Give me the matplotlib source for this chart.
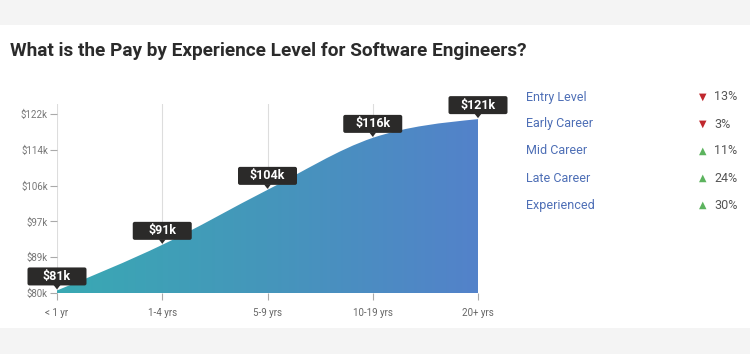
import numpy as np
import matplotlib
matplotlib.use('Agg')
from matplotlib import pyplot as plt
from matplotlib import transforms as mtransforms
from matplotlib.path import Path
from matplotlib.patches import PathPatch, FancyBboxPatch, Polygon, Rectangle
from matplotlib.colors import LinearSegmentedColormap

# data, pay in $k
levels = ['< 1 yr', '1-4 yrs', '5-9 yrs', '10-19 yrs', '20+ yrs']
pay = [80.6, 91.3, 104.2, 116.4, 120.8]
legend_names = ['Entry Level', 'Early Career', 'Mid Career', 'Late Career', 'Experienced']
legend_change = [-13, -3, 11, 24, 30]

W, H = 750, 354
DPI = 100
plt.rcParams['font.family'] = ['Roboto', 'DejaVu Sans']


def monotone_path(x, y, base):
    # cubic bezier segments like d3's curveMonotoneX
    x = np.asarray(x, float)
    y = np.asarray(y, float)
    h = np.diff(x)
    s = np.diff(y) / h
    t = np.zeros_like(y)
    for i in range(1, len(y) - 1):
        p = (s[i - 1] * h[i] + s[i] * h[i - 1]) / (h[i - 1] + h[i])
        t[i] = (np.sign(s[i - 1]) + np.sign(s[i])) * min(abs(s[i - 1]), abs(s[i]), 0.5 * abs(p))
    t[0] = (3 * s[0] - t[1]) / 2
    t[-1] = (3 * s[-1] - t[-2]) / 2
    verts = [(x[0], base), (x[0], y[0])]
    codes = [Path.MOVETO, Path.LINETO]
    for i in range(len(x) - 1):
        dx = h[i] / 3
        verts += [(x[i] + dx, y[i] + dx * t[i]), (x[i + 1] - dx, y[i + 1] - dx * t[i + 1]), (x[i + 1], y[i + 1])]
        codes += [Path.CURVE4] * 3
    verts += [(x[-1], base), (x[0], base)]
    codes += [Path.LINETO, Path.CLOSEPOLY]
    return Path(verts, codes)


fig = plt.figure(figsize=(W / DPI, H / DPI), dpi=DPI)
fig.patch.set_facecolor('white')

# gray bands top and bottom
fig.patches.append(Rectangle((0, 1 - 25 / H), 1, 25 / H, transform=fig.transFigure, fc='#f4f4f4', ec='none'))
fig.patches.append(Rectangle((0, 0), 1, 26 / H, transform=fig.transFigure, fc='#f4f4f4', ec='none'))

fig.text(10 / W, 1 - 51 / H, 'What is the Pay by Experience Level for Software Engineers?',
         fontweight='bold', fontsize=13.7, color='#2b2b2b', va='center', ha='left')

ymin, ymax = 80, 122
ytop = 124.35
ax = fig.add_axes([57 / W, (H - 293) / H, (478 - 57) / W, (293 - 104) / H])
ax.set_facecolor('none')

x = np.arange(len(levels))
area = monotone_path(x, pay, ymin)
patch = PathPatch(area, fc='none', ec='none')
ax.add_patch(patch)
cmap = LinearSegmentedColormap.from_list('g', ['#39a9b3', '#4596bb', '#5382ca'])
grad = np.linspace(0, 1, 256).reshape(1, -1)
im = ax.imshow(grad, cmap=cmap, extent=[0, len(levels) - 1, ymin, ytop], aspect='auto', zorder=2)
im.set_clip_path(patch)

ax.set_xlim(0, len(levels) - 1)
ax.set_ylim(ymin, ytop)
for sp in ax.spines.values():
    sp.set_visible(False)
ax.set_xticks(x)
ax.set_xticklabels(levels)
yt = np.linspace(ymin, ymax, 6)
ax.set_yticks(yt)
ax.set_yticklabels(['$%dk' % np.ceil(v - 1e-9) for v in yt])
ax.tick_params(axis='x', length=5, width=0.8, color='#aaaaaa', pad=6, labelsize=7, labelcolor='#666666')
ax.tick_params(axis='y', length=5, width=0.8, color='#aaaaaa', pad=1.5, labelsize=7, labelcolor='#777777')
ax.grid(axis='x', color='#dddddd', linewidth=0.8, zorder=1)
ax.set_axisbelow(True)

# value tooltips, sized in pixels around each point
for xi, v in zip(x, pay):
    tr = mtransforms.Affine2D() + mtransforms.ScaledTranslation(xi, v, ax.transData)
    ax.add_patch(FancyBboxPatch((-29.5, 5), 59, 18, boxstyle='round,pad=0,rounding_size=2',
                                fc='#2b2a29', ec='none', transform=tr, clip_on=False, zorder=5))
    ax.add_patch(Polygon([(-3.5, 5.5), (3.5, 5.5), (0, 1)], closed=True, fc='#2b2a29', ec='none',
                         transform=tr, clip_on=False, zorder=5))
    ax.text(0, 14, '$%dk' % round(v), transform=tr, ha='center', va='center', color='white',
            fontweight='bold', fontsize=9, zorder=6, clip_on=False)

# legend list on the right
row_y = [97, 124, 151, 178, 205]
for name, ch, yy in zip(legend_names, legend_change, row_y):
    fy = 1 - yy / H
    fig.text(526 / W, fy, name, color='#4e6fb6', fontsize=9, ha='left', va='center')
    fig.text(714 / W, fy, '%d%%' % abs(ch), color='#555555', fontsize=9, ha='left', va='center')
    tri = '▲' if ch > 0 else '▼'
    tc = '#5cb35e' if ch > 0 else '#c0272d'
    fig.text(703 / W, fy, tri, color=tc, fontsize=7, ha='center', va='center', family=['DejaVu Sans'])

fig.savefig('out.png', dpi=DPI)
